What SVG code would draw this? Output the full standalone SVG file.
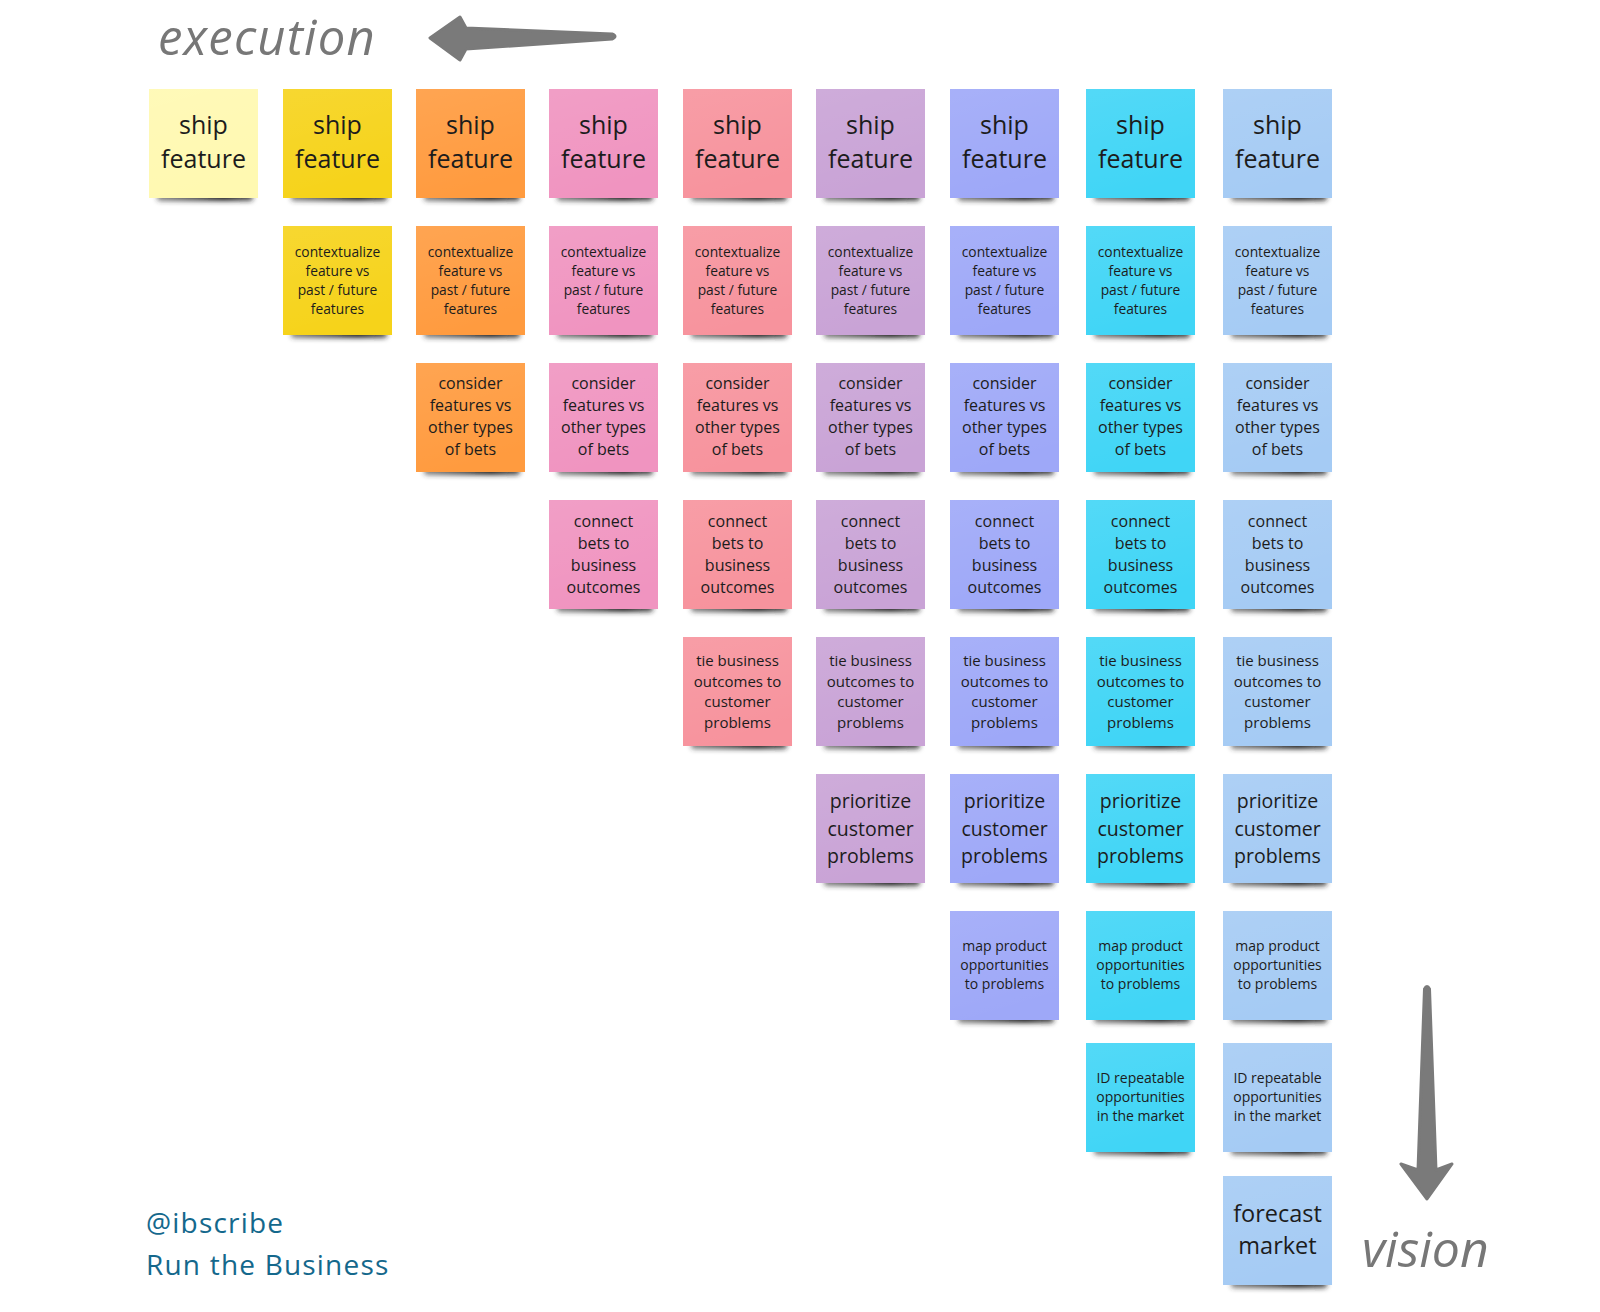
<svg xmlns="http://www.w3.org/2000/svg" xmlns:xlink="http://www.w3.org/1999/xlink" width="1600" height="1312" viewBox="0 0 1600 1312">
<style>
.t{font-family:"Open Sans","Noto Sans","Liberation Sans",sans-serif;fill:#1c1c1c;text-anchor:middle}
.r0{font-size:25px}.r1{font-size:13.8px}.r2{font-size:16px}.r3{font-size:16px}.r4{font-size:15px}.r5{font-size:19.5px}.r6{font-size:14px}.r7{font-size:14px}.r8{font-size:23.5px}
.lbl{font-family:"Open Sans","Noto Sans","Liberation Sans",sans-serif;font-style:italic;fill:#777777}
.sig{font-family:"Open Sans","Noto Sans","Liberation Sans",sans-serif;fill:#14688c;font-size:28px;letter-spacing:1.2px}
.c0{fill:#fff9b1}.c1{fill:#f6d31a}.c2{fill:#ff9b3f}.c3{fill:#f094c0}.c4{fill:#f7939d}.c5{fill:#c9a3d6}.c6{fill:#9ea8f8}.c7{fill:#40d5f6}.c8{fill:#a5cbf4}
.arrow{fill:#7a7a7a;stroke:#7a7a7a;stroke-width:3;stroke-linejoin:round}
</style>
<defs>
<filter id="blur" x="-20%" y="-100%" width="140%" height="300%"><feGaussianBlur stdDeviation="2.4"/></filter>
<linearGradient id="sheen" x1="0" y1="0" x2="0.3" y2="1">
<stop offset="0" stop-color="#ffffff" stop-opacity="0.10"/>
<stop offset="1" stop-color="#ffffff" stop-opacity="0"/>
</linearGradient>
<linearGradient id="shg" x1="0" y1="0" x2="1" y2="0">
<stop offset="0" stop-color="#333333" stop-opacity="0.6"/>
<stop offset="0.7" stop-color="#222222" stop-opacity="1"/>
<stop offset="1" stop-color="#222222" stop-opacity="0.75"/>
</linearGradient>
<g id="shadow"><rect x="8" y="104" width="96" height="8" rx="3" fill="url(#shg)" filter="url(#blur)"/></g>
<rect id="gloss" width="109" height="109" fill="url(#sheen)"/>
</defs>
<rect width="1600" height="1312" fill="#ffffff"/>

<g id="header">
<text class="lbl" x="158" y="55" font-size="49" letter-spacing="1.2">execution</text>
<text class="lbl" x="1362" y="1267" font-size="50">vision</text>
<text class="sig" x="146" y="1233">@ibscribe</text>
<text class="sig" x="146" y="1275">Run the Business</text>
</g>

<g id="connectors">
<path class="arrow" d="M430,38 L460,17 L466,28 L612,34 Q618,36.5 612,39 L466,49 L460,60 Z"/>
<path class="arrow" d="M1424.5,989 Q1427,984 1429.5,989 L1436,1170 L1452,1164 L1427,1199 L1401,1164 L1418,1170 Z"/>
</g>

<!-- column 0 -->
<g id="n0-0"><use href="#shadow" x="149" y="89"/><rect class="c0" x="149" y="89" width="109" height="109"/><use href="#gloss" x="149" y="89"/><text class="t r0"><tspan x="203.5" y="134">ship</tspan><tspan x="203.5" y="168">feature</tspan></text></g>

<!-- column 1 -->
<g id="n1-0"><use href="#shadow" x="283" y="89"/><rect class="c1" x="283" y="89" width="109" height="109"/><use href="#gloss" x="283" y="89"/><text class="t r0"><tspan x="337.5" y="134">ship</tspan><tspan x="337.5" y="168">feature</tspan></text></g>
<g id="n1-1"><use href="#shadow" x="283" y="226"/><rect class="c1" x="283" y="226" width="109" height="109"/><use href="#gloss" x="283" y="226"/><text class="t r1"><tspan x="337.5" y="257">contextualize</tspan><tspan x="337.5" y="276">feature vs</tspan><tspan x="337.5" y="295">past / future</tspan><tspan x="337.5" y="314">features</tspan></text></g>

<!-- column 2 -->
<g id="n2-0"><use href="#shadow" x="416" y="89"/><rect class="c2" x="416" y="89" width="109" height="109"/><use href="#gloss" x="416" y="89"/><text class="t r0"><tspan x="470.5" y="134">ship</tspan><tspan x="470.5" y="168">feature</tspan></text></g>
<g id="n2-1"><use href="#shadow" x="416" y="226"/><rect class="c2" x="416" y="226" width="109" height="109"/><use href="#gloss" x="416" y="226"/><text class="t r1"><tspan x="470.5" y="257">contextualize</tspan><tspan x="470.5" y="276">feature vs</tspan><tspan x="470.5" y="295">past / future</tspan><tspan x="470.5" y="314">features</tspan></text></g>
<g id="n2-2"><use href="#shadow" x="416" y="363"/><rect class="c2" x="416" y="363" width="109" height="109"/><use href="#gloss" x="416" y="363"/><text class="t r2"><tspan x="470.5" y="389">consider</tspan><tspan x="470.5" y="411">features vs</tspan><tspan x="470.5" y="433">other types</tspan><tspan x="470.5" y="455">of bets</tspan></text></g>

<!-- column 3 -->
<g id="n3-0"><use href="#shadow" x="549" y="89"/><rect class="c3" x="549" y="89" width="109" height="109"/><use href="#gloss" x="549" y="89"/><text class="t r0"><tspan x="603.5" y="134">ship</tspan><tspan x="603.5" y="168">feature</tspan></text></g>
<g id="n3-1"><use href="#shadow" x="549" y="226"/><rect class="c3" x="549" y="226" width="109" height="109"/><use href="#gloss" x="549" y="226"/><text class="t r1"><tspan x="603.5" y="257">contextualize</tspan><tspan x="603.5" y="276">feature vs</tspan><tspan x="603.5" y="295">past / future</tspan><tspan x="603.5" y="314">features</tspan></text></g>
<g id="n3-2"><use href="#shadow" x="549" y="363"/><rect class="c3" x="549" y="363" width="109" height="109"/><use href="#gloss" x="549" y="363"/><text class="t r2"><tspan x="603.5" y="389">consider</tspan><tspan x="603.5" y="411">features vs</tspan><tspan x="603.5" y="433">other types</tspan><tspan x="603.5" y="455">of bets</tspan></text></g>
<g id="n3-3"><use href="#shadow" x="549" y="500"/><rect class="c3" x="549" y="500" width="109" height="109"/><use href="#gloss" x="549" y="500"/><text class="t r3"><tspan x="603.5" y="527">connect</tspan><tspan x="603.5" y="549">bets to</tspan><tspan x="603.5" y="571">business</tspan><tspan x="603.5" y="593">outcomes</tspan></text></g>

<!-- column 4 -->
<g id="n4-0"><use href="#shadow" x="683" y="89"/><rect class="c4" x="683" y="89" width="109" height="109"/><use href="#gloss" x="683" y="89"/><text class="t r0"><tspan x="737.5" y="134">ship</tspan><tspan x="737.5" y="168">feature</tspan></text></g>
<g id="n4-1"><use href="#shadow" x="683" y="226"/><rect class="c4" x="683" y="226" width="109" height="109"/><use href="#gloss" x="683" y="226"/><text class="t r1"><tspan x="737.5" y="257">contextualize</tspan><tspan x="737.5" y="276">feature vs</tspan><tspan x="737.5" y="295">past / future</tspan><tspan x="737.5" y="314">features</tspan></text></g>
<g id="n4-2"><use href="#shadow" x="683" y="363"/><rect class="c4" x="683" y="363" width="109" height="109"/><use href="#gloss" x="683" y="363"/><text class="t r2"><tspan x="737.5" y="389">consider</tspan><tspan x="737.5" y="411">features vs</tspan><tspan x="737.5" y="433">other types</tspan><tspan x="737.5" y="455">of bets</tspan></text></g>
<g id="n4-3"><use href="#shadow" x="683" y="500"/><rect class="c4" x="683" y="500" width="109" height="109"/><use href="#gloss" x="683" y="500"/><text class="t r3"><tspan x="737.5" y="527">connect</tspan><tspan x="737.5" y="549">bets to</tspan><tspan x="737.5" y="571">business</tspan><tspan x="737.5" y="593">outcomes</tspan></text></g>
<g id="n4-4"><use href="#shadow" x="683" y="637"/><rect class="c4" x="683" y="637" width="109" height="109"/><use href="#gloss" x="683" y="637"/><text class="t r4"><tspan x="737.5" y="666">tie business</tspan><tspan x="737.5" y="686.5">outcomes to</tspan><tspan x="737.5" y="707">customer</tspan><tspan x="737.5" y="727.5">problems</tspan></text></g>

<!-- column 5 -->
<g id="n5-0"><use href="#shadow" x="816" y="89"/><rect class="c5" x="816" y="89" width="109" height="109"/><use href="#gloss" x="816" y="89"/><text class="t r0"><tspan x="870.5" y="134">ship</tspan><tspan x="870.5" y="168">feature</tspan></text></g>
<g id="n5-1"><use href="#shadow" x="816" y="226"/><rect class="c5" x="816" y="226" width="109" height="109"/><use href="#gloss" x="816" y="226"/><text class="t r1"><tspan x="870.5" y="257">contextualize</tspan><tspan x="870.5" y="276">feature vs</tspan><tspan x="870.5" y="295">past / future</tspan><tspan x="870.5" y="314">features</tspan></text></g>
<g id="n5-2"><use href="#shadow" x="816" y="363"/><rect class="c5" x="816" y="363" width="109" height="109"/><use href="#gloss" x="816" y="363"/><text class="t r2"><tspan x="870.5" y="389">consider</tspan><tspan x="870.5" y="411">features vs</tspan><tspan x="870.5" y="433">other types</tspan><tspan x="870.5" y="455">of bets</tspan></text></g>
<g id="n5-3"><use href="#shadow" x="816" y="500"/><rect class="c5" x="816" y="500" width="109" height="109"/><use href="#gloss" x="816" y="500"/><text class="t r3"><tspan x="870.5" y="527">connect</tspan><tspan x="870.5" y="549">bets to</tspan><tspan x="870.5" y="571">business</tspan><tspan x="870.5" y="593">outcomes</tspan></text></g>
<g id="n5-4"><use href="#shadow" x="816" y="637"/><rect class="c5" x="816" y="637" width="109" height="109"/><use href="#gloss" x="816" y="637"/><text class="t r4"><tspan x="870.5" y="666">tie business</tspan><tspan x="870.5" y="686.5">outcomes to</tspan><tspan x="870.5" y="707">customer</tspan><tspan x="870.5" y="727.5">problems</tspan></text></g>
<g id="n5-5"><use href="#shadow" x="816" y="774"/><rect class="c5" x="816" y="774" width="109" height="109"/><use href="#gloss" x="816" y="774"/><text class="t r5"><tspan x="870.5" y="808">prioritize</tspan><tspan x="870.5" y="835.5">customer</tspan><tspan x="870.5" y="863">problems</tspan></text></g>

<!-- column 6 -->
<g id="n6-0"><use href="#shadow" x="950" y="89"/><rect class="c6" x="950" y="89" width="109" height="109"/><use href="#gloss" x="950" y="89"/><text class="t r0"><tspan x="1004.5" y="134">ship</tspan><tspan x="1004.5" y="168">feature</tspan></text></g>
<g id="n6-1"><use href="#shadow" x="950" y="226"/><rect class="c6" x="950" y="226" width="109" height="109"/><use href="#gloss" x="950" y="226"/><text class="t r1"><tspan x="1004.5" y="257">contextualize</tspan><tspan x="1004.5" y="276">feature vs</tspan><tspan x="1004.5" y="295">past / future</tspan><tspan x="1004.5" y="314">features</tspan></text></g>
<g id="n6-2"><use href="#shadow" x="950" y="363"/><rect class="c6" x="950" y="363" width="109" height="109"/><use href="#gloss" x="950" y="363"/><text class="t r2"><tspan x="1004.5" y="389">consider</tspan><tspan x="1004.5" y="411">features vs</tspan><tspan x="1004.5" y="433">other types</tspan><tspan x="1004.5" y="455">of bets</tspan></text></g>
<g id="n6-3"><use href="#shadow" x="950" y="500"/><rect class="c6" x="950" y="500" width="109" height="109"/><use href="#gloss" x="950" y="500"/><text class="t r3"><tspan x="1004.5" y="527">connect</tspan><tspan x="1004.5" y="549">bets to</tspan><tspan x="1004.5" y="571">business</tspan><tspan x="1004.5" y="593">outcomes</tspan></text></g>
<g id="n6-4"><use href="#shadow" x="950" y="637"/><rect class="c6" x="950" y="637" width="109" height="109"/><use href="#gloss" x="950" y="637"/><text class="t r4"><tspan x="1004.5" y="666">tie business</tspan><tspan x="1004.5" y="686.5">outcomes to</tspan><tspan x="1004.5" y="707">customer</tspan><tspan x="1004.5" y="727.5">problems</tspan></text></g>
<g id="n6-5"><use href="#shadow" x="950" y="774"/><rect class="c6" x="950" y="774" width="109" height="109"/><use href="#gloss" x="950" y="774"/><text class="t r5"><tspan x="1004.5" y="808">prioritize</tspan><tspan x="1004.5" y="835.5">customer</tspan><tspan x="1004.5" y="863">problems</tspan></text></g>
<g id="n6-6"><use href="#shadow" x="950" y="911"/><rect class="c6" x="950" y="911" width="109" height="109"/><use href="#gloss" x="950" y="911"/><text class="t r6"><tspan x="1004.5" y="951">map product</tspan><tspan x="1004.5" y="970">opportunities</tspan><tspan x="1004.5" y="989">to problems</tspan></text></g>

<!-- column 7 -->
<g id="n7-0"><use href="#shadow" x="1086" y="89"/><rect class="c7" x="1086" y="89" width="109" height="109"/><use href="#gloss" x="1086" y="89"/><text class="t r0"><tspan x="1140.5" y="134">ship</tspan><tspan x="1140.5" y="168">feature</tspan></text></g>
<g id="n7-1"><use href="#shadow" x="1086" y="226"/><rect class="c7" x="1086" y="226" width="109" height="109"/><use href="#gloss" x="1086" y="226"/><text class="t r1"><tspan x="1140.5" y="257">contextualize</tspan><tspan x="1140.5" y="276">feature vs</tspan><tspan x="1140.5" y="295">past / future</tspan><tspan x="1140.5" y="314">features</tspan></text></g>
<g id="n7-2"><use href="#shadow" x="1086" y="363"/><rect class="c7" x="1086" y="363" width="109" height="109"/><use href="#gloss" x="1086" y="363"/><text class="t r2"><tspan x="1140.5" y="389">consider</tspan><tspan x="1140.5" y="411">features vs</tspan><tspan x="1140.5" y="433">other types</tspan><tspan x="1140.5" y="455">of bets</tspan></text></g>
<g id="n7-3"><use href="#shadow" x="1086" y="500"/><rect class="c7" x="1086" y="500" width="109" height="109"/><use href="#gloss" x="1086" y="500"/><text class="t r3"><tspan x="1140.5" y="527">connect</tspan><tspan x="1140.5" y="549">bets to</tspan><tspan x="1140.5" y="571">business</tspan><tspan x="1140.5" y="593">outcomes</tspan></text></g>
<g id="n7-4"><use href="#shadow" x="1086" y="637"/><rect class="c7" x="1086" y="637" width="109" height="109"/><use href="#gloss" x="1086" y="637"/><text class="t r4"><tspan x="1140.5" y="666">tie business</tspan><tspan x="1140.5" y="686.5">outcomes to</tspan><tspan x="1140.5" y="707">customer</tspan><tspan x="1140.5" y="727.5">problems</tspan></text></g>
<g id="n7-5"><use href="#shadow" x="1086" y="774"/><rect class="c7" x="1086" y="774" width="109" height="109"/><use href="#gloss" x="1086" y="774"/><text class="t r5"><tspan x="1140.5" y="808">prioritize</tspan><tspan x="1140.5" y="835.5">customer</tspan><tspan x="1140.5" y="863">problems</tspan></text></g>
<g id="n7-6"><use href="#shadow" x="1086" y="911"/><rect class="c7" x="1086" y="911" width="109" height="109"/><use href="#gloss" x="1086" y="911"/><text class="t r6"><tspan x="1140.5" y="951">map product</tspan><tspan x="1140.5" y="970">opportunities</tspan><tspan x="1140.5" y="989">to problems</tspan></text></g>
<g id="n7-7"><use href="#shadow" x="1086" y="1043"/><rect class="c7" x="1086" y="1043" width="109" height="109"/><use href="#gloss" x="1086" y="1043"/><text class="t r7"><tspan x="1140.5" y="1083">ID repeatable</tspan><tspan x="1140.5" y="1102">opportunities</tspan><tspan x="1140.5" y="1121">in the market</tspan></text></g>

<!-- column 8 -->
<g id="n8-0"><use href="#shadow" x="1223" y="89"/><rect class="c8" x="1223" y="89" width="109" height="109"/><use href="#gloss" x="1223" y="89"/><text class="t r0"><tspan x="1277.5" y="134">ship</tspan><tspan x="1277.5" y="168">feature</tspan></text></g>
<g id="n8-1"><use href="#shadow" x="1223" y="226"/><rect class="c8" x="1223" y="226" width="109" height="109"/><use href="#gloss" x="1223" y="226"/><text class="t r1"><tspan x="1277.5" y="257">contextualize</tspan><tspan x="1277.5" y="276">feature vs</tspan><tspan x="1277.5" y="295">past / future</tspan><tspan x="1277.5" y="314">features</tspan></text></g>
<g id="n8-2"><use href="#shadow" x="1223" y="363"/><rect class="c8" x="1223" y="363" width="109" height="109"/><use href="#gloss" x="1223" y="363"/><text class="t r2"><tspan x="1277.5" y="389">consider</tspan><tspan x="1277.5" y="411">features vs</tspan><tspan x="1277.5" y="433">other types</tspan><tspan x="1277.5" y="455">of bets</tspan></text></g>
<g id="n8-3"><use href="#shadow" x="1223" y="500"/><rect class="c8" x="1223" y="500" width="109" height="109"/><use href="#gloss" x="1223" y="500"/><text class="t r3"><tspan x="1277.5" y="527">connect</tspan><tspan x="1277.5" y="549">bets to</tspan><tspan x="1277.5" y="571">business</tspan><tspan x="1277.5" y="593">outcomes</tspan></text></g>
<g id="n8-4"><use href="#shadow" x="1223" y="637"/><rect class="c8" x="1223" y="637" width="109" height="109"/><use href="#gloss" x="1223" y="637"/><text class="t r4"><tspan x="1277.5" y="666">tie business</tspan><tspan x="1277.5" y="686.5">outcomes to</tspan><tspan x="1277.5" y="707">customer</tspan><tspan x="1277.5" y="727.5">problems</tspan></text></g>
<g id="n8-5"><use href="#shadow" x="1223" y="774"/><rect class="c8" x="1223" y="774" width="109" height="109"/><use href="#gloss" x="1223" y="774"/><text class="t r5"><tspan x="1277.5" y="808">prioritize</tspan><tspan x="1277.5" y="835.5">customer</tspan><tspan x="1277.5" y="863">problems</tspan></text></g>
<g id="n8-6"><use href="#shadow" x="1223" y="911"/><rect class="c8" x="1223" y="911" width="109" height="109"/><use href="#gloss" x="1223" y="911"/><text class="t r6"><tspan x="1277.5" y="951">map product</tspan><tspan x="1277.5" y="970">opportunities</tspan><tspan x="1277.5" y="989">to problems</tspan></text></g>
<g id="n8-7"><use href="#shadow" x="1223" y="1043"/><rect class="c8" x="1223" y="1043" width="109" height="109"/><use href="#gloss" x="1223" y="1043"/><text class="t r7"><tspan x="1277.5" y="1083">ID repeatable</tspan><tspan x="1277.5" y="1102">opportunities</tspan><tspan x="1277.5" y="1121">in the market</tspan></text></g>
<g id="n8-8"><use href="#shadow" x="1223" y="1176"/><rect class="c8" x="1223" y="1176" width="109" height="109"/><use href="#gloss" x="1223" y="1176"/><text class="t r8"><tspan x="1277.5" y="1222">forecast</tspan><tspan x="1277.5" y="1254">market</tspan></text></g>
</svg>
